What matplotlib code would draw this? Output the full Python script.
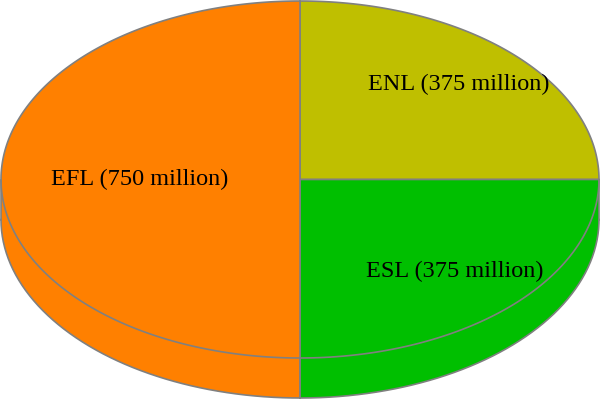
import numpy as np
import matplotlib
matplotlib.use("Agg")
import matplotlib.pyplot as plt

# data
labels = ["ENL (375 million)", "ESL (375 million)", "EFL (750 million)"]
values = [375, 375, 750]
colors = ["#BFBF00", "#00BF00", "#FF8000"]
label_r = [0.75, 0.73, 0.535]

# geometry of the pseudo-3D pie (pixels)
cx, cy = 300, 220.5
rx, ry = 299, 178.5
depth = 40
edge = "#808080"

fig = plt.figure(figsize=(6, 4), dpi=100)
ax = fig.add_axes([0, 0, 1, 1])
ax.set_xlim(0, 600)
ax.set_ylim(0, 400)
ax.axis("off")

def pt(t, dy=0):
    t = np.radians(t)
    return cx + rx * np.cos(t), cy + ry * np.sin(t) - dy

fracs = np.array(values) / sum(values)
starts = 90 - 360 * np.concatenate([[0], np.cumsum(fracs)[:-1]])
ends = starts - 360 * fracs

# side walls (lower half only)
for s, e, c in zip(starts, ends, colors):
    lo, hi = e, s
    while hi > 0 and lo > 0:
        lo -= 360; hi -= 360
    lo2, hi2 = max(lo, -180), min(hi, 0)
    if lo2 >= hi2:
        continue
    t = np.linspace(hi2, lo2, 100)
    xs, ys = pt(t)
    xb, yb = pt(t[::-1], depth)
    ax.fill(np.concatenate([xs, xb]), np.concatenate([ys, yb]), color=c, lw=0)
    for tb in (hi2, lo2):
        if -180 < tb < 0:
            x0, y0 = pt(tb)
            ax.plot([x0, x0], [y0, y0 - depth], color=edge, lw=1.2)

# bottom outline + vertical edges
t = np.linspace(-180, 0, 300)
xb, yb = pt(t, depth)
ax.plot(xb, yb, color=edge, lw=1.2)
for tb in (-180, 0):
    x0, y0 = pt(tb)
    ax.plot([x0, x0], [y0, y0 - depth], color=edge, lw=1.2)

# top face
for s, e, c, lab, r in zip(starts, ends, colors, labels, label_r):
    t = np.linspace(s, e, 200)
    xs, ys = pt(t)
    ax.fill(np.concatenate([[cx], xs]), np.concatenate([[cy], ys]),
            facecolor=c, edgecolor=edge, lw=1.2)
    m = np.radians((s + e) / 2)
    ax.text(cx + r * rx * np.cos(m), cy + r * ry * np.sin(m), lab,
            ha="center", va="center", fontsize=17.5, family="Liberation Serif")

fig.savefig("out.png", dpi=100)
